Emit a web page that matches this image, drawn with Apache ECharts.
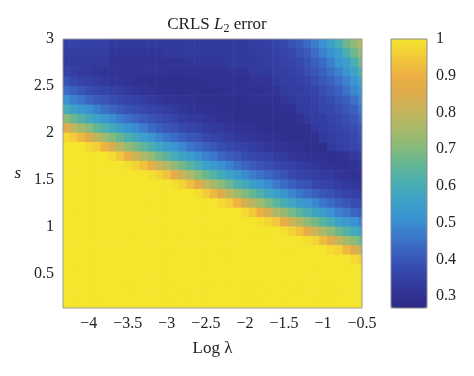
<!DOCTYPE html>
<html>
<head>
<meta charset="utf-8">
<title>CRLS L2 error</title>
<script src="https://cdn.jsdelivr.net/npm/echarts@6/dist/echarts.min.js"></script>
<style>
  html, body { margin: 0; padding: 0; background: #fff; }
  #main { width: 474px; height: 376px; }
</style>
</head>
<body>
<div id="main"></div>
<script>
// cell centres (Log lambda across, s from top row to bottom row)
var logLambda = [-4.3, -4.2, -4.1, -4.0, -3.9, -3.8, -3.7, -3.6, -3.5, -3.4, -3.3, -3.2, -3.1,
  -3.0, -2.9, -2.8, -2.7, -2.6, -2.5, -2.4, -2.3, -2.2, -2.1, -2.0, -1.9, -1.8, -1.7, -1.6,
  -1.5, -1.4, -1.3, -1.2, -1.1, -1.0, -0.9, -0.8, -0.7, -0.6, -0.5];
var sValues = [2.95, 2.85, 2.75, 2.65, 2.55, 2.45, 2.35, 2.25, 2.15, 2.05, 1.95, 1.85, 1.75,
  1.65, 1.55, 1.45, 1.35, 1.25, 1.15, 1.05, 0.95, 0.85, 0.75, 0.65, 0.55, 0.45, 0.35, 0.25, 0.15];

// L2 error, one row per s value (top row first)
var errorGrid = [
  [0.35,0.35,0.35,0.35,0.35,0.35,0.33,0.33,0.33,0.33, 0.33,0.33,0.33,0.33,0.33,0.33,0.33,0.33,0.33,0.33, 0.33,0.33,0.33,0.33,0.34,0.34,0.35,0.36,0.37,0.39, 0.41,0.44,0.47,0.51,0.55,0.60,0.67,0.72,0.78],
  [0.34,0.34,0.34,0.34,0.34,0.34,0.32,0.32,0.32,0.32, 0.32,0.32,0.32,0.33,0.33,0.33,0.33,0.33,0.33,0.33, 0.33,0.33,0.33,0.33,0.33,0.34,0.34,0.35,0.36,0.37, 0.39,0.41,0.44,0.48,0.51,0.55,0.61,0.67,0.73],
  [0.33,0.33,0.33,0.33,0.33,0.33,0.31,0.31,0.31,0.31, 0.31,0.31,0.31,0.31,0.31,0.31,0.32,0.32,0.32,0.32, 0.32,0.33,0.33,0.33,0.33,0.33,0.34,0.34,0.35,0.36, 0.37,0.39,0.42,0.44,0.48,0.52,0.55,0.61,0.68],
  [0.35,0.34,0.33,0.33,0.32,0.31,0.31,0.31,0.31,0.31, 0.31,0.31,0.31,0.30,0.30,0.30,0.30,0.30,0.30,0.30, 0.30,0.31,0.31,0.31,0.33,0.33,0.33,0.34,0.34,0.35, 0.36,0.38,0.40,0.42,0.45,0.48,0.52,0.56,0.62],
  [0.39,0.37,0.36,0.35,0.34,0.33,0.32,0.32,0.31,0.30, 0.30,0.29,0.29,0.29,0.29,0.29,0.29,0.29,0.30,0.30, 0.30,0.30,0.30,0.30,0.31,0.31,0.31,0.33,0.34,0.34, 0.35,0.36,0.38,0.40,0.42,0.45,0.48,0.52,0.56],
  [0.44,0.42,0.40,0.38,0.37,0.36,0.35,0.34,0.33,0.32, 0.31,0.31,0.30,0.30,0.29,0.29,0.29,0.29,0.29,0.29, 0.29,0.30,0.30,0.30,0.30,0.30,0.31,0.31,0.33,0.34, 0.34,0.35,0.36,0.38,0.40,0.42,0.45,0.49,0.52],
  [0.51,0.48,0.46,0.43,0.41,0.40,0.38,0.37,0.36,0.35, 0.34,0.33,0.32,0.31,0.31,0.30,0.30,0.29,0.29,0.29, 0.29,0.29,0.29,0.29,0.30,0.30,0.30,0.30,0.32,0.33, 0.34,0.34,0.35,0.37,0.38,0.40,0.42,0.45,0.49],
  [0.60,0.56,0.53,0.51,0.48,0.45,0.43,0.41,0.39,0.38, 0.37,0.36,0.35,0.34,0.33,0.32,0.31,0.31,0.30,0.30, 0.29,0.29,0.29,0.29,0.29,0.29,0.29,0.30,0.30,0.30, 0.33,0.34,0.34,0.36,0.37,0.38,0.40,0.42,0.46],
  [0.71,0.67,0.63,0.59,0.56,0.53,0.50,0.47,0.45,0.43, 0.41,0.39,0.38,0.37,0.36,0.34,0.33,0.33,0.32,0.31, 0.30,0.30,0.29,0.29,0.29,0.29,0.29,0.29,0.29,0.29, 0.30,0.33,0.34,0.34,0.36,0.37,0.38,0.40,0.43],
  [0.86,0.80,0.75,0.71,0.66,0.62,0.59,0.55,0.52,0.50, 0.47,0.44,0.42,0.40,0.39,0.37,0.36,0.35,0.34,0.33, 0.33,0.32,0.31,0.30,0.30,0.29,0.29,0.29,0.29,0.29, 0.29,0.29,0.33,0.34,0.35,0.36,0.37,0.38,0.40],
  [0.98,0.96,0.92,0.85,0.79,0.74,0.70,0.66,0.62,0.58, 0.55,0.52,0.49,0.46,0.44,0.42,0.40,0.39,0.37,0.36, 0.35,0.34,0.33,0.32,0.32,0.31,0.30,0.30,0.29,0.29, 0.29,0.29,0.29,0.33,0.34,0.35,0.36,0.37,0.39],
  [1,1,1,0.98,0.96,0.91,0.84,0.78,0.73,0.69, 0.65,0.61,0.58,0.54,0.52,0.49,0.46,0.44,0.42,0.40, 0.38,0.37,0.36,0.35,0.34,0.33,0.32,0.31,0.31,0.30, 0.30,0.29,0.29,0.29,0.33,0.34,0.35,0.36,0.37],
  [1,1,1,1,1,1,0.98,0.95,0.89,0.82, 0.77,0.73,0.68,0.64,0.60,0.57,0.54,0.51,0.48,0.46, 0.43,0.41,0.40,0.38,0.37,0.36,0.35,0.34,0.33,0.32, 0.31,0.31,0.30,0.30,0.29,0.30,0.31,0.33,0.34],
  [1,1,1,1,1,1,1,1,0.99,0.97, 0.94,0.88,0.81,0.77,0.72,0.68,0.64,0.60,0.56,0.53, 0.51,0.48,0.45,0.43,0.41,0.39,0.38,0.37,0.36,0.35, 0.34,0.33,0.32,0.31,0.31,0.30,0.30,0.30,0.32],
  [1,1,1,1,1,1,1,1,1,1, 1,0.99,0.97,0.94,0.87,0.81,0.76,0.71,0.67,0.63, 0.59,0.56,0.53,0.50,0.47,0.45,0.43,0.41,0.39,0.37, 0.36,0.35,0.34,0.33,0.33,0.32,0.31,0.30,0.30],
  [1,1,1,1,1,1,1,1,1,1, 1,1,1,1,0.99,0.97,0.93,0.86,0.80,0.75, 0.71,0.67,0.62,0.59,0.55,0.53,0.50,0.47,0.44,0.42, 0.40,0.39,0.37,0.36,0.35,0.34,0.33,0.32,0.32],
  [1,1,1,1,1,1,1,1,1,1, 1,1,1,1,1,1,1,0.99,0.96,0.92, 0.85,0.79,0.74,0.70,0.66,0.62,0.58,0.55,0.52,0.49, 0.46,0.44,0.42,0.40,0.39,0.37,0.36,0.35,0.34],
  [1,1,1,1,1,1,1,1,1,1, 1,1,1,1,1,1,1,1,1,1, 0.98,0.96,0.91,0.84,0.78,0.74,0.69,0.65,0.61,0.58, 0.54,0.52,0.49,0.46,0.44,0.42,0.40,0.38,0.37],
  [1,1,1,1,1,1,1,1,1,1, 1,1,1,1,1,1,1,1,1,1, 1,1,1,0.98,0.95,0.90,0.83,0.77,0.73,0.69, 0.64,0.61,0.57,0.54,0.51,0.48,0.46,0.43,0.41],
  [1,1,1,1,1,1,1,1,1,1, 1,1,1,1,1,1,1,1,1,1, 1,1,1,1,1,0.99,0.97,0.95,0.88,0.82, 0.77,0.72,0.68,0.64,0.60,0.56,0.53,0.51,0.48],
  [1,1,1,1,1,1,1,1,1,1, 1,1,1,1,1,1,1,1,1,1, 1,1,1,1,1,1,1,1,0.99,0.97, 0.94,0.87,0.81,0.76,0.72,0.67,0.63,0.59,0.56],
  [1,1,1,1,1,1,1,1,1,1, 1,1,1,1,1,1,1,1,1,1, 1,1,1,1,1,1,1,1,1,1, 1,0.99,0.97,0.93,0.86,0.80,0.75,0.71,0.67],
  [1,1,1,1,1,1,1,1,1,1, 1,1,1,1,1,1,1,1,1,1, 1,1,1,1,1,1,1,1,1,1, 1,1,1,1,0.98,0.97,0.92,0.85,0.79],
  [1,1,1,1,1,1,1,1,1,1, 1,1,1,1,1,1,1,1,1,1, 1,1,1,1,1,1,1,1,1,1, 1,1,1,1,1,1,1,0.98,0.96],
  [1,1,1,1,1,1,1,1,1,1, 1,1,1,1,1,1,1,1,1,1, 1,1,1,1,1,1,1,1,1,1, 1,1,1,1,1,1,1,1,1],
  [1,1,1,1,1,1,1,1,1,1, 1,1,1,1,1,1,1,1,1,1, 1,1,1,1,1,1,1,1,1,1, 1,1,1,1,1,1,1,1,1],
  [1,1,1,1,1,1,1,1,1,1, 1,1,1,1,1,1,1,1,1,1, 1,1,1,1,1,1,1,1,1,1, 1,1,1,1,1,1,1,1,1],
  [1,1,1,1,1,1,1,1,1,1, 1,1,1,1,1,1,1,1,1,1, 1,1,1,1,1,1,1,1,1,1, 1,1,1,1,1,1,1,1,1],
  [1,1,1,1,1,1,1,1,1,1, 1,1,1,1,1,1,1,1,1,1, 1,1,1,1,1,1,1,1,1,1, 1,1,1,1,1,1,1,1,1]
];

// colour scale as printed (parula-like), evenly spaced from min to max
var barColors = ['#2d2a86', '#323598', '#3646ac', '#3a5dbd', '#3b78cb', '#3a93d2', '#3ca2c7',
  '#4aaeb0', '#63b695', '#88bb7a', '#a9b969', '#c6b55b', '#e0ab4c', '#eeaf42', '#f2c93a', '#f5e52d'];

var cellW = 0.1, cellH = 0.1;
var serif = 'Liberation Serif';
var txt = '#222';

var cells = [];
for (var i = 0; i < sValues.length; i++) {
  for (var j = 0; j < logLambda.length; j++) {
    cells.push([logLambda[j], sValues[i], errorGrid[i][j]]);
  }
}

function halfTicks(v) {
  if (Math.abs(v * 2 - Math.round(v * 2)) > 1e-6) return '';
  return String(v).replace('-', '\u2212');
}
function tenthTicks(v) {
  if (Math.abs(v * 10 - Math.round(v * 10)) > 1e-6) return '';
  return String(v);
}

function renderCell(params, api) {
  var x = api.value(0), y = api.value(1);
  var p0 = api.coord([x - cellW / 2, y + cellH / 2]);
  var p1 = api.coord([x + cellW / 2, y - cellH / 2]);
  var rect = echarts.graphic.clipRectByRect(
    { x: p0[0], y: p0[1], width: p1[0] - p0[0] + 0.6, height: p1[1] - p0[1] + 0.6 },
    { x: params.coordSys.x, y: params.coordSys.y, width: params.coordSys.width, height: params.coordSys.height }
  );
  return rect && { type: 'rect', shape: rect, style: { fill: api.visual('color') } };
}

var myChart = echarts.init(document.getElementById('main'));
var option = {
  animation: false,
  title: {
    text: '{n|CRLS }{i|L}{s|2}{n| error}',
    left: 212,
    textAlign: 'center',
    top: 10,
    textStyle: {
      rich: {
        n: { fontFamily: serif, fontSize: 17, fontWeight: 'normal', color: txt, lineHeight: 20 },
        i: { fontFamily: serif, fontSize: 17, fontWeight: 'normal', color: txt, fontStyle: 'italic', lineHeight: 20 },
        s: { fontFamily: serif, fontSize: 12, fontWeight: 'normal', color: txt, verticalAlign: 'bottom', lineHeight: 20 }
      }
    }
  },
  grid: [
    { left: 63, top: 39, width: 299, height: 269, show: true, borderColor: '#9a9a9a', borderWidth: 1, backgroundColor: 'transparent', z: 10 },
    { left: 391, top: 39, width: 36, height: 269, show: true, borderColor: '#8a8a8a', borderWidth: 1, backgroundColor: 'transparent', z: 10 }
  ],
  xAxis: [
    {
      gridIndex: 0, type: 'value', min: -4.33, max: -0.5, minInterval: 0.5, maxInterval: 0.5,
      axisLine: { show: false }, axisTick: { show: false }, splitLine: { show: false },
      axisLabel: { margin: 8, fontFamily: serif, fontSize: 16, color: txt, formatter: halfTicks },
      name: 'Log \u03bb', nameLocation: 'middle', nameGap: 32,
      nameTextStyle: { fontFamily: serif, fontSize: 17, color: txt }
    },
    { gridIndex: 1, type: 'value', min: 0, max: 1, show: false }
  ],
  yAxis: [
    {
      gridIndex: 0, type: 'value', min: 0.13, max: 3, minInterval: 0.5, maxInterval: 0.5,
      axisLine: { show: false }, axisTick: { show: false }, splitLine: { show: false },
      axisLabel: { margin: 9, fontFamily: serif, fontSize: 16, color: txt, formatter: halfTicks },
      name: 's', nameLocation: 'middle', nameRotate: 0, nameGap: 42,
      nameTextStyle: { fontFamily: serif, fontSize: 17, fontStyle: 'italic', color: txt }
    },
    {
      gridIndex: 1, type: 'value', position: 'right', min: 0.268, max: 1, minInterval: 0.1, maxInterval: 0.1,
      axisLine: { show: false }, splitLine: { show: false }, axisTick: { show: false },
      axisLabel: { margin: 9, fontFamily: serif, fontSize: 16, color: txt, formatter: tenthTicks }
    }
  ],
  visualMap: {
    type: 'continuous',
    min: 0.268,
    max: 1,
    dimension: 2,
    seriesIndex: 0,
    calculable: false,
    hoverLink: false,
    left: 391,
    top: 39,
    padding: 0,
    itemWidth: 36,
    itemHeight: 269,
    inRange: { color: barColors }
  },
  series: [
    {
      type: 'custom',
      xAxisIndex: 0,
      yAxisIndex: 0,
      renderItem: renderCell,
      encode: { x: 0, y: 1 },
      data: cells
    }
  ]
};
myChart.setOption(option);
</script>
</body>
</html>
